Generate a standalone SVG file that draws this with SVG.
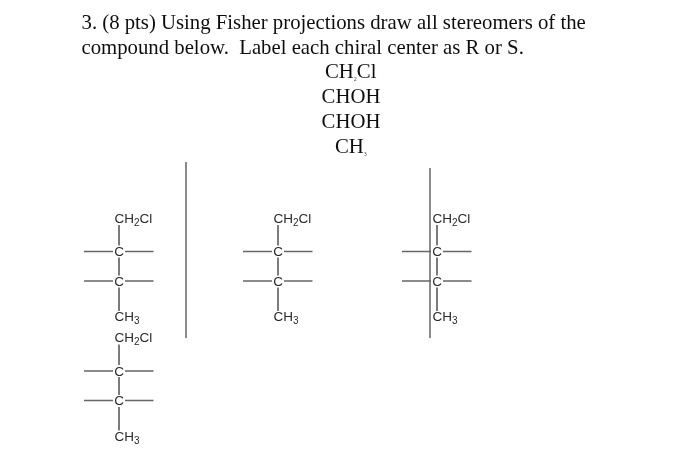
<svg xmlns="http://www.w3.org/2000/svg" width="700" height="456" viewBox="0 0 700 456">
<style>
.t{font-family:"Liberation Serif","Times New Roman",serif;font-size:20.75px;fill:#111;white-space:pre}
.f{font-family:"Liberation Serif","Times New Roman",serif;font-size:20.75px;fill:#111;text-anchor:middle}
.s{font-size:6px;fill:#444}
.l{font-family:"Liberation Sans",Arial,sans-serif;font-size:13.5px;fill:#2a2a2a}
.u{font-size:10px}
.c{text-anchor:middle}
.b{stroke:#666;stroke-width:1.7;fill:none}
.d{stroke:#808080;stroke-width:1.8;fill:none}
</style>
<defs>
<filter id="soft" x="0" y="0" width="100%" height="100%"><feGaussianBlur stdDeviation="0.3"/></filter>
<g id="fisher">
<path class="b" d="M0 -26.500V-6M0 6V24M0 36V59.500M-35 0H-6M6 0H34.500M-35 29.500H-6M6 29.500H34.500"/>
<text class="l c" x="0" y="4.500">C</text>
<text class="l c" x="0" y="34">C</text>
<text class="l" x="-4.500" y="-29">CH<tspan class="u" dy="3">2</tspan><tspan dy="-3">Cl</tspan></text>
<text class="l" x="-4.500" y="69.500">CH<tspan class="u" dy="3">3</tspan></text>
</g>
</defs>
<rect width="700" height="456" fill="#fff"/>
<g filter="url(#soft)">
<g id="question">
<text class="t" x="81.500" y="28.500">3. (8 pts) Using Fisher projections draw all stereomers of the</text>
<text class="t" x="81.500" y="53.500">compound below.  Label each chiral center as R or S.</text>
</g>
<g id="formula">
<text class="t" x="325" y="77.500">CH<tspan class="s" dy="3">2</tspan><tspan dy="-3">Cl</tspan></text>
<text class="f" x="351" y="102.500">CHOH</text>
<text class="f" x="351" y="127.500">CHOH</text>
<text class="t" x="335" y="152.500">CH<tspan class="s" dy="3">3</tspan></text>
</g>
<g id="connectors">
<path class="d" d="M186 162V338"/>
<path class="d" d="M430 168V338"/>
</g>
<g id="structure-1"><use href="#fisher" x="119" y="251.500"/></g>
<g id="structure-2"><use href="#fisher" x="278" y="251.500"/></g>
<g id="structure-3"><use href="#fisher" x="437" y="251.500"/></g>
<g id="structure-4"><use href="#fisher" x="119" y="371"/></g>
</g>
</svg>
